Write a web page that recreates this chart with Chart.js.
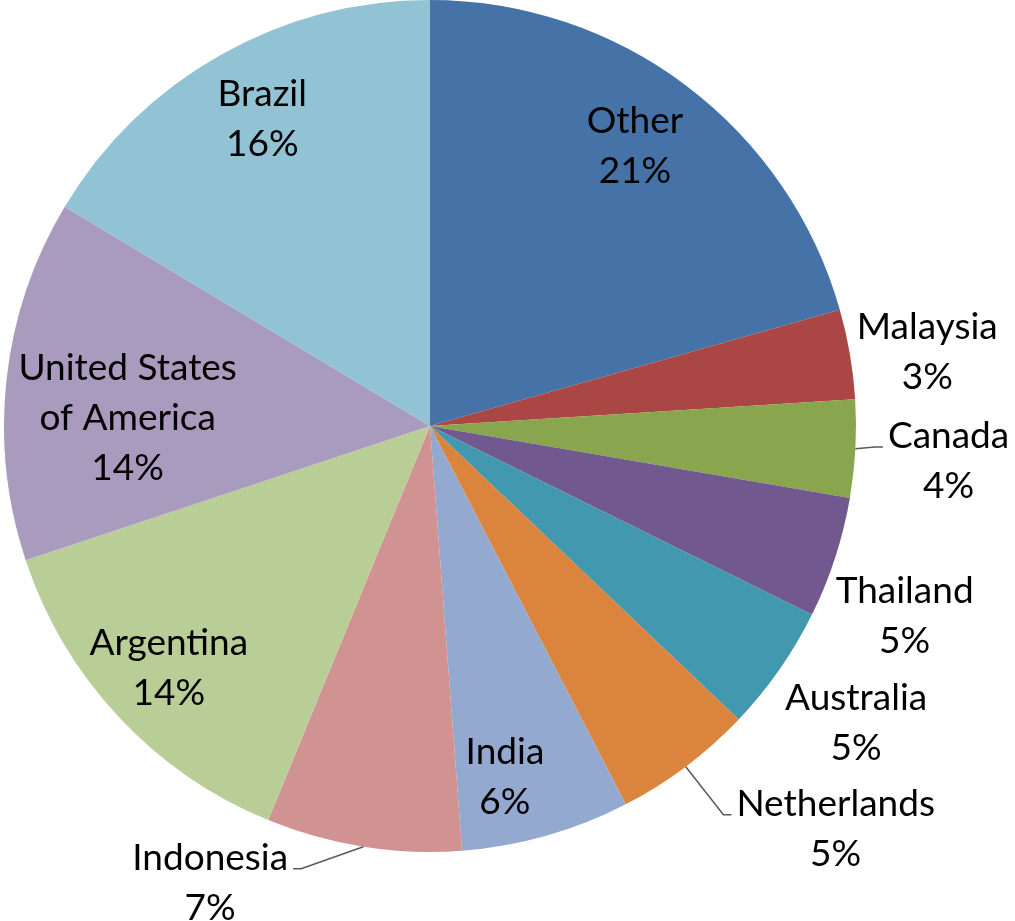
<!DOCTYPE html>
<html>
<head>
<meta charset="utf-8">
<script src="https://cdn.jsdelivr.net/npm/chart.js@4/dist/chart.umd.min.js"></script>
<style>
  body { margin: 0; background: #fff; }
</style>
</head>
<body>
<canvas id="myChart" width="1015" height="921"></canvas>
<script>
// donnees (parts en %)
const categories = ['Other', 'Malaysia', 'Canada', 'Thailand', 'Australia', 'Netherlands',
    'India', 'Indonesia', 'Argentina', ['United States', 'of America'], 'Brazil'];
const shares = [20.6, 3.4, 3.7, 4.6, 4.8, 5.3, 6.4, 7.4, 13.7, 13.7, 16.4];

const colors = ['#4572A7', '#AA4643', '#89A54E', '#71588F', '#4198AF', '#DB843D',
    '#93A9CF', '#D19392', '#B9CD96', '#A99BBD', '#92C3D5'];

// placement des etiquettes : facteur de rayon, decalage d'angle (deg), ligne de rappel
const labelRadius = [0.815, 1.18, 1.22, 1.2, 1.22, 1.342, 0.843, 1.19, 0.836, 0.71, 0.822];
const labelShift = [-0.9, 1.3, 0.8, 3.8, 0, -8.3, 3.8, 16.7, 0.2, -4.8, 0.9];
const leader = [false, false, true, false, false, true, false, true, false, false, false];

const FONT = '37px Lato';
const LINE_H = 50;

const labelPlugin = {
    id: 'sliceLabels',
    afterDatasetsDraw(chart) {
        const ctx = chart.ctx;
        const meta = chart.getDatasetMeta(0);
        const total = shares.reduce((a, b) => a + b, 0);
        ctx.save();
        ctx.font = FONT;
        ctx.fillStyle = '#000';
        ctx.textAlign = 'center';
        ctx.textBaseline = 'middle';
        meta.data.forEach((arc, i) => {
            const p = arc.getProps(['x', 'y', 'startAngle', 'endAngle', 'outerRadius'], true);
            const mid = (p.startAngle + p.endAngle) / 2;
            const a = mid + labelShift[i] * Math.PI / 180;
            const cx = p.x + Math.cos(a) * p.outerRadius * labelRadius[i];
            const cy = p.y + Math.sin(a) * p.outerRadius * labelRadius[i];
            const name = [].concat(categories[i]);
            const lines = name.concat([Math.round(shares[i] / total * 100) + '%']);
            const top = cy - (lines.length - 1) * LINE_H / 2;
            lines.forEach((t, k) => ctx.fillText(t, cx, top + k * LINE_H));

            if (leader[i]) {
                // ligne de rappel grise du bord de la part vers le texte
                const sx = p.x + Math.cos(mid) * p.outerRadius;
                const sy = p.y + Math.sin(mid) * p.outerRadius;
                const w = ctx.measureText(lines[0]).width;
                const right = cx > sx;
                const ex = right ? cx - w / 2 - 5 : cx + w / 2 + 5;
                const ey = top + 11;
                const kx = right ? ex - 8 : ex + 8;
                ctx.beginPath();
                ctx.moveTo(sx, sy);
                ctx.lineTo(kx, ey);
                ctx.lineTo(ex, ey);
                ctx.strokeStyle = '#595959';
                ctx.lineWidth = 1.5;
                ctx.stroke();
            }
        });
        ctx.restore();
    }
};

new Chart(document.getElementById('myChart'), {
    type: 'pie',
    data: {
        labels: categories,
        datasets: [{
            data: shares,
            backgroundColor: colors,
            borderWidth: 0,
            hoverOffset: 0
        }]
    },
    options: {
        responsive: false,
        animation: false,
        layout: { padding: { left: 2, right: 157, top: -2, bottom: 69 } },
        plugins: {
            legend: { display: false },
            tooltip: { enabled: false }
        }
    },
    plugins: [labelPlugin]
});
</script>
</body>
</html>
